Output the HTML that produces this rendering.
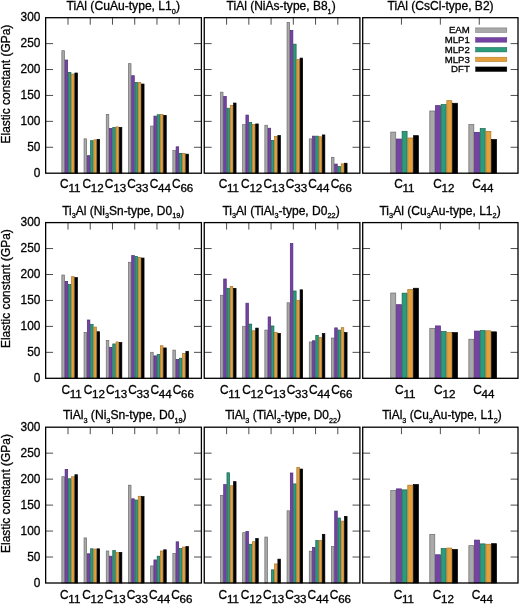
<!DOCTYPE html>
<html lang="en">
<head>
<meta charset="utf-8">
<title>Elastic constants of Ti-Al compounds</title>
<style>
html,body{margin:0;padding:0;background:#fff;}
body{width:520px;height:604px;overflow:hidden;}
svg{display:block;}
</style>
</head>
<body>
<svg width="520" height="604" viewBox="0 0 520 604" font-family='"Liberation Sans", Arial, Helvetica, sans-serif' fill="#000" stroke="#000" stroke-width="0">
<rect x="0" y="0" width="520" height="604" fill="#fff"/>
<g>
<rect x="61.85" y="50.70" width="2.56" height="122.50" fill="#a9a9a9" stroke="#6c6c6c" stroke-width="0.7"/>
<rect x="65.11" y="60.03" width="2.56" height="113.17" fill="#7643a5" stroke="#4c2b76" stroke-width="0.7"/>
<rect x="68.37" y="72.47" width="2.56" height="100.73" fill="#2a9c7b" stroke="#1a624d" stroke-width="0.7"/>
<rect x="71.63" y="74.03" width="2.56" height="99.17" fill="#e4a03c" stroke="#a87428" stroke-width="0.7"/>
<rect x="74.89" y="72.99" width="2.56" height="100.21" fill="#000000" stroke="#000000" stroke-width="0.7"/>
<rect x="84.05" y="138.82" width="2.56" height="34.38" fill="#a9a9a9" stroke="#6c6c6c" stroke-width="0.7"/>
<rect x="87.31" y="155.67" width="2.56" height="17.53" fill="#7643a5" stroke="#4c2b76" stroke-width="0.7"/>
<rect x="90.57" y="140.69" width="2.56" height="32.51" fill="#2a9c7b" stroke="#1a624d" stroke-width="0.7"/>
<rect x="93.83" y="139.86" width="2.56" height="33.34" fill="#e4a03c" stroke="#a87428" stroke-width="0.7"/>
<rect x="97.09" y="139.34" width="2.56" height="33.86" fill="#000000" stroke="#000000" stroke-width="0.7"/>
<rect x="106.25" y="114.46" width="2.56" height="58.74" fill="#a9a9a9" stroke="#6c6c6c" stroke-width="0.7"/>
<rect x="109.51" y="128.45" width="2.56" height="44.74" fill="#7643a5" stroke="#4c2b76" stroke-width="0.7"/>
<rect x="112.77" y="127.42" width="2.56" height="45.78" fill="#2a9c7b" stroke="#1a624d" stroke-width="0.7"/>
<rect x="116.03" y="126.90" width="2.56" height="46.30" fill="#e4a03c" stroke="#a87428" stroke-width="0.7"/>
<rect x="119.29" y="127.42" width="2.56" height="45.78" fill="#000000" stroke="#000000" stroke-width="0.7"/>
<rect x="128.45" y="63.66" width="2.56" height="109.54" fill="#a9a9a9" stroke="#6c6c6c" stroke-width="0.7"/>
<rect x="131.71" y="75.69" width="2.56" height="97.51" fill="#7643a5" stroke="#4c2b76" stroke-width="0.7"/>
<rect x="134.97" y="82.43" width="2.56" height="90.77" fill="#2a9c7b" stroke="#1a624d" stroke-width="0.7"/>
<rect x="138.23" y="82.43" width="2.56" height="90.77" fill="#e4a03c" stroke="#a87428" stroke-width="0.7"/>
<rect x="141.49" y="84.03" width="2.56" height="89.17" fill="#000000" stroke="#000000" stroke-width="0.7"/>
<rect x="150.65" y="126.02" width="2.56" height="47.18" fill="#a9a9a9" stroke="#6c6c6c" stroke-width="0.7"/>
<rect x="153.91" y="116.12" width="2.56" height="57.08" fill="#7643a5" stroke="#4c2b76" stroke-width="0.7"/>
<rect x="157.17" y="114.72" width="2.56" height="58.48" fill="#2a9c7b" stroke="#1a624d" stroke-width="0.7"/>
<rect x="160.43" y="114.51" width="2.56" height="58.69" fill="#e4a03c" stroke="#a87428" stroke-width="0.7"/>
<rect x="163.69" y="115.34" width="2.56" height="57.86" fill="#000000" stroke="#000000" stroke-width="0.7"/>
<rect x="172.85" y="150.38" width="2.56" height="22.82" fill="#a9a9a9" stroke="#6c6c6c" stroke-width="0.7"/>
<rect x="176.11" y="146.80" width="2.56" height="26.40" fill="#7643a5" stroke="#4c2b76" stroke-width="0.7"/>
<rect x="179.37" y="153.33" width="2.56" height="19.87" fill="#2a9c7b" stroke="#1a624d" stroke-width="0.7"/>
<rect x="182.63" y="153.33" width="2.56" height="19.87" fill="#e4a03c" stroke="#a87428" stroke-width="0.7"/>
<rect x="185.89" y="154.16" width="2.56" height="19.04" fill="#000000" stroke="#000000" stroke-width="0.7"/>
<path d="M45.65 147.28h7.4 M201.4 147.28h-7.4 M45.65 121.37h7.4 M201.4 121.37h-7.4 M45.65 95.45h7.4 M201.4 95.45h-7.4 M45.65 69.53h7.4 M201.4 69.53h-7.4 M45.65 43.62h7.4 M201.4 43.62h-7.4 M68.00 17.7v7 M90.24 17.7v7 M112.48 17.7v7 M134.72 17.7v7 M156.96 17.7v7 M179.20 17.7v7" stroke="#000" stroke-width="0.7" fill="none"/>
<rect x="45.65" y="17.7" width="155.75" height="155.5" fill="none" stroke="#000" stroke-width="1.3"/>
</g>
<g>
<rect x="220.45" y="92.17" width="2.56" height="81.03" fill="#a9a9a9" stroke="#6c6c6c" stroke-width="0.7"/>
<rect x="223.71" y="96.42" width="2.56" height="76.78" fill="#7643a5" stroke="#4c2b76" stroke-width="0.7"/>
<rect x="226.97" y="108.24" width="2.56" height="64.96" fill="#2a9c7b" stroke="#1a624d" stroke-width="0.7"/>
<rect x="230.23" y="105.34" width="2.56" height="67.86" fill="#e4a03c" stroke="#a87428" stroke-width="0.7"/>
<rect x="233.49" y="103.06" width="2.56" height="70.14" fill="#000000" stroke="#000000" stroke-width="0.7"/>
<rect x="242.65" y="124.62" width="2.56" height="48.58" fill="#a9a9a9" stroke="#6c6c6c" stroke-width="0.7"/>
<rect x="245.91" y="115.08" width="2.56" height="58.12" fill="#7643a5" stroke="#4c2b76" stroke-width="0.7"/>
<rect x="249.17" y="122.39" width="2.56" height="50.81" fill="#2a9c7b" stroke="#1a624d" stroke-width="0.7"/>
<rect x="252.43" y="124.62" width="2.56" height="48.58" fill="#e4a03c" stroke="#a87428" stroke-width="0.7"/>
<rect x="255.69" y="123.95" width="2.56" height="49.25" fill="#000000" stroke="#000000" stroke-width="0.7"/>
<rect x="264.85" y="125.24" width="2.56" height="47.96" fill="#a9a9a9" stroke="#6c6c6c" stroke-width="0.7"/>
<rect x="268.11" y="128.20" width="2.56" height="45.00" fill="#7643a5" stroke="#4c2b76" stroke-width="0.7"/>
<rect x="271.37" y="140.48" width="2.56" height="32.72" fill="#2a9c7b" stroke="#1a624d" stroke-width="0.7"/>
<rect x="274.63" y="136.49" width="2.56" height="36.71" fill="#e4a03c" stroke="#a87428" stroke-width="0.7"/>
<rect x="277.89" y="135.50" width="2.56" height="37.70" fill="#000000" stroke="#000000" stroke-width="0.7"/>
<rect x="287.05" y="22.40" width="2.56" height="150.80" fill="#a9a9a9" stroke="#6c6c6c" stroke-width="0.7"/>
<rect x="290.31" y="30.33" width="2.56" height="142.87" fill="#7643a5" stroke="#4c2b76" stroke-width="0.7"/>
<rect x="293.57" y="44.17" width="2.56" height="129.03" fill="#2a9c7b" stroke="#1a624d" stroke-width="0.7"/>
<rect x="296.83" y="59.62" width="2.56" height="113.58" fill="#e4a03c" stroke="#a87428" stroke-width="0.7"/>
<rect x="300.09" y="58.07" width="2.56" height="115.13" fill="#000000" stroke="#000000" stroke-width="0.7"/>
<rect x="309.25" y="138.87" width="2.56" height="34.33" fill="#a9a9a9" stroke="#6c6c6c" stroke-width="0.7"/>
<rect x="312.51" y="136.13" width="2.56" height="37.07" fill="#7643a5" stroke="#4c2b76" stroke-width="0.7"/>
<rect x="315.77" y="136.13" width="2.56" height="37.07" fill="#2a9c7b" stroke="#1a624d" stroke-width="0.7"/>
<rect x="319.03" y="136.75" width="2.56" height="36.45" fill="#e4a03c" stroke="#a87428" stroke-width="0.7"/>
<rect x="322.29" y="134.93" width="2.56" height="38.27" fill="#000000" stroke="#000000" stroke-width="0.7"/>
<rect x="331.45" y="157.33" width="2.56" height="15.87" fill="#a9a9a9" stroke="#6c6c6c" stroke-width="0.7"/>
<rect x="334.71" y="164.06" width="2.56" height="9.14" fill="#7643a5" stroke="#4c2b76" stroke-width="0.7"/>
<rect x="337.97" y="166.40" width="2.56" height="6.80" fill="#2a9c7b" stroke="#1a624d" stroke-width="0.7"/>
<rect x="341.23" y="163.86" width="2.56" height="9.34" fill="#e4a03c" stroke="#a87428" stroke-width="0.7"/>
<rect x="344.49" y="163.24" width="2.56" height="9.96" fill="#000000" stroke="#000000" stroke-width="0.7"/>
<path d="M204.25 147.28h7.4 M359.9 147.28h-7.4 M204.25 121.37h7.4 M359.9 121.37h-7.4 M204.25 95.45h7.4 M359.9 95.45h-7.4 M204.25 69.53h7.4 M359.9 69.53h-7.4 M204.25 43.62h7.4 M359.9 43.62h-7.4 M226.60 17.7v7 M248.84 17.7v7 M271.08 17.7v7 M293.32 17.7v7 M315.56 17.7v7 M337.80 17.7v7" stroke="#000" stroke-width="0.7" fill="none"/>
<rect x="204.25" y="17.7" width="155.64999999999998" height="155.5" fill="none" stroke="#000" stroke-width="1.3"/>
</g>
<g>
<rect x="390.75" y="132.08" width="4.98" height="41.12" fill="#a9a9a9" stroke="#6c6c6c" stroke-width="0.7"/>
<rect x="396.43" y="139.03" width="4.98" height="34.17" fill="#7643a5" stroke="#4c2b76" stroke-width="0.7"/>
<rect x="402.11" y="131.31" width="4.98" height="41.89" fill="#2a9c7b" stroke="#1a624d" stroke-width="0.7"/>
<rect x="407.79" y="137.99" width="4.98" height="35.21" fill="#e4a03c" stroke="#a87428" stroke-width="0.7"/>
<rect x="413.47" y="135.66" width="4.98" height="37.54" fill="#000000" stroke="#000000" stroke-width="0.7"/>
<rect x="429.80" y="110.99" width="4.98" height="62.21" fill="#a9a9a9" stroke="#6c6c6c" stroke-width="0.7"/>
<rect x="435.48" y="105.65" width="4.98" height="67.55" fill="#7643a5" stroke="#4c2b76" stroke-width="0.7"/>
<rect x="441.16" y="104.61" width="4.98" height="68.59" fill="#2a9c7b" stroke="#1a624d" stroke-width="0.7"/>
<rect x="446.84" y="100.67" width="4.98" height="72.53" fill="#e4a03c" stroke="#a87428" stroke-width="0.7"/>
<rect x="452.52" y="103.26" width="4.98" height="69.94" fill="#000000" stroke="#000000" stroke-width="0.7"/>
<rect x="468.85" y="124.62" width="4.98" height="48.58" fill="#a9a9a9" stroke="#6c6c6c" stroke-width="0.7"/>
<rect x="474.53" y="132.34" width="4.98" height="40.86" fill="#7643a5" stroke="#4c2b76" stroke-width="0.7"/>
<rect x="480.21" y="128.61" width="4.98" height="44.59" fill="#2a9c7b" stroke="#1a624d" stroke-width="0.7"/>
<rect x="485.89" y="131.36" width="4.98" height="41.84" fill="#e4a03c" stroke="#a87428" stroke-width="0.7"/>
<rect x="491.57" y="139.50" width="4.98" height="33.70" fill="#000000" stroke="#000000" stroke-width="0.7"/>
<path d="M362.7 147.28h7.4 M518.0 147.28h-7.4 M362.7 121.37h7.4 M518.0 121.37h-7.4 M362.7 95.45h7.4 M518.0 95.45h-7.4 M362.7 69.53h7.4 M518.0 69.53h-7.4 M362.7 43.62h7.4 M518.0 43.62h-7.4 M401.45 17.7v7 M440.35 17.7v7 M479.25 17.7v7" stroke="#000" stroke-width="0.7" fill="none"/>
<rect x="362.7" y="17.7" width="155.3" height="155.5" fill="none" stroke="#000" stroke-width="1.3"/>
</g>
<g>
<rect x="61.85" y="275.01" width="2.56" height="103.29" fill="#a9a9a9" stroke="#6c6c6c" stroke-width="0.7"/>
<rect x="65.11" y="281.39" width="2.56" height="96.91" fill="#7643a5" stroke="#4c2b76" stroke-width="0.7"/>
<rect x="68.37" y="284.45" width="2.56" height="93.85" fill="#2a9c7b" stroke="#1a624d" stroke-width="0.7"/>
<rect x="71.63" y="276.72" width="2.56" height="101.58" fill="#e4a03c" stroke="#a87428" stroke-width="0.7"/>
<rect x="74.89" y="277.60" width="2.56" height="100.70" fill="#000000" stroke="#000000" stroke-width="0.7"/>
<rect x="84.05" y="332.36" width="2.56" height="45.94" fill="#a9a9a9" stroke="#6c6c6c" stroke-width="0.7"/>
<rect x="87.31" y="320.00" width="2.56" height="58.30" fill="#7643a5" stroke="#4c2b76" stroke-width="0.7"/>
<rect x="90.57" y="324.52" width="2.56" height="53.78" fill="#2a9c7b" stroke="#1a624d" stroke-width="0.7"/>
<rect x="93.83" y="327.06" width="2.56" height="51.24" fill="#e4a03c" stroke="#a87428" stroke-width="0.7"/>
<rect x="97.09" y="331.73" width="2.56" height="46.57" fill="#000000" stroke="#000000" stroke-width="0.7"/>
<rect x="106.25" y="340.40" width="2.56" height="37.90" fill="#a9a9a9" stroke="#6c6c6c" stroke-width="0.7"/>
<rect x="109.51" y="347.30" width="2.56" height="31.00" fill="#7643a5" stroke="#4c2b76" stroke-width="0.7"/>
<rect x="112.77" y="343.93" width="2.56" height="34.37" fill="#2a9c7b" stroke="#1a624d" stroke-width="0.7"/>
<rect x="116.03" y="341.96" width="2.56" height="36.34" fill="#e4a03c" stroke="#a87428" stroke-width="0.7"/>
<rect x="119.29" y="342.58" width="2.56" height="35.72" fill="#000000" stroke="#000000" stroke-width="0.7"/>
<rect x="128.45" y="262.24" width="2.56" height="116.06" fill="#a9a9a9" stroke="#6c6c6c" stroke-width="0.7"/>
<rect x="131.71" y="255.65" width="2.56" height="122.65" fill="#7643a5" stroke="#4c2b76" stroke-width="0.7"/>
<rect x="134.97" y="256.48" width="2.56" height="121.82" fill="#2a9c7b" stroke="#1a624d" stroke-width="0.7"/>
<rect x="138.23" y="257.46" width="2.56" height="120.84" fill="#e4a03c" stroke="#a87428" stroke-width="0.7"/>
<rect x="141.49" y="258.03" width="2.56" height="120.27" fill="#000000" stroke="#000000" stroke-width="0.7"/>
<rect x="150.65" y="352.28" width="2.56" height="26.02" fill="#a9a9a9" stroke="#6c6c6c" stroke-width="0.7"/>
<rect x="153.91" y="355.87" width="2.56" height="22.43" fill="#7643a5" stroke="#4c2b76" stroke-width="0.7"/>
<rect x="157.17" y="354.46" width="2.56" height="23.84" fill="#2a9c7b" stroke="#1a624d" stroke-width="0.7"/>
<rect x="160.43" y="345.75" width="2.56" height="32.55" fill="#e4a03c" stroke="#a87428" stroke-width="0.7"/>
<rect x="163.69" y="347.93" width="2.56" height="30.37" fill="#000000" stroke="#000000" stroke-width="0.7"/>
<rect x="172.85" y="350.11" width="2.56" height="28.20" fill="#a9a9a9" stroke="#6c6c6c" stroke-width="0.7"/>
<rect x="176.11" y="359.45" width="2.56" height="18.85" fill="#7643a5" stroke="#4c2b76" stroke-width="0.7"/>
<rect x="179.37" y="358.20" width="2.56" height="20.10" fill="#2a9c7b" stroke="#1a624d" stroke-width="0.7"/>
<rect x="182.63" y="353.48" width="2.56" height="24.82" fill="#e4a03c" stroke="#a87428" stroke-width="0.7"/>
<rect x="185.89" y="351.30" width="2.56" height="27.00" fill="#000000" stroke="#000000" stroke-width="0.7"/>
<path d="M45.65 352.35h7.4 M201.4 352.35h-7.4 M45.65 326.40h7.4 M201.4 326.40h-7.4 M45.65 300.45h7.4 M201.4 300.45h-7.4 M45.65 274.50h7.4 M201.4 274.50h-7.4 M45.65 248.55h7.4 M201.4 248.55h-7.4 M68.00 222.6v7 M90.24 222.6v7 M112.48 222.6v7 M134.72 222.6v7 M156.96 222.6v7 M179.20 222.6v7" stroke="#000" stroke-width="0.7" fill="none"/>
<rect x="45.65" y="222.6" width="155.75" height="155.70000000000002" fill="none" stroke="#000" stroke-width="1.3"/>
</g>
<g>
<rect x="220.45" y="295.25" width="2.56" height="83.05" fill="#a9a9a9" stroke="#6c6c6c" stroke-width="0.7"/>
<rect x="223.71" y="279.00" width="2.56" height="99.30" fill="#7643a5" stroke="#4c2b76" stroke-width="0.7"/>
<rect x="226.97" y="288.29" width="2.56" height="90.01" fill="#2a9c7b" stroke="#1a624d" stroke-width="0.7"/>
<rect x="230.23" y="286.53" width="2.56" height="91.77" fill="#e4a03c" stroke="#a87428" stroke-width="0.7"/>
<rect x="233.49" y="288.40" width="2.56" height="89.90" fill="#000000" stroke="#000000" stroke-width="0.7"/>
<rect x="242.65" y="326.28" width="2.56" height="52.02" fill="#a9a9a9" stroke="#6c6c6c" stroke-width="0.7"/>
<rect x="245.91" y="303.19" width="2.56" height="75.11" fill="#7643a5" stroke="#4c2b76" stroke-width="0.7"/>
<rect x="249.17" y="324.10" width="2.56" height="54.20" fill="#2a9c7b" stroke="#1a624d" stroke-width="0.7"/>
<rect x="252.43" y="330.75" width="2.56" height="47.55" fill="#e4a03c" stroke="#a87428" stroke-width="0.7"/>
<rect x="255.69" y="328.10" width="2.56" height="50.20" fill="#000000" stroke="#000000" stroke-width="0.7"/>
<rect x="264.85" y="330.07" width="2.56" height="48.23" fill="#a9a9a9" stroke="#6c6c6c" stroke-width="0.7"/>
<rect x="268.11" y="316.94" width="2.56" height="61.36" fill="#7643a5" stroke="#4c2b76" stroke-width="0.7"/>
<rect x="271.37" y="325.97" width="2.56" height="52.33" fill="#2a9c7b" stroke="#1a624d" stroke-width="0.7"/>
<rect x="274.63" y="332.36" width="2.56" height="45.94" fill="#e4a03c" stroke="#a87428" stroke-width="0.7"/>
<rect x="277.89" y="333.34" width="2.56" height="44.96" fill="#000000" stroke="#000000" stroke-width="0.7"/>
<rect x="287.05" y="302.77" width="2.56" height="75.53" fill="#a9a9a9" stroke="#6c6c6c" stroke-width="0.7"/>
<rect x="290.31" y="243.55" width="2.56" height="134.75" fill="#7643a5" stroke="#4c2b76" stroke-width="0.7"/>
<rect x="293.57" y="290.99" width="2.56" height="87.31" fill="#2a9c7b" stroke="#1a624d" stroke-width="0.7"/>
<rect x="296.83" y="300.28" width="2.56" height="78.02" fill="#e4a03c" stroke="#a87428" stroke-width="0.7"/>
<rect x="300.09" y="289.80" width="2.56" height="88.50" fill="#000000" stroke="#000000" stroke-width="0.7"/>
<rect x="309.25" y="341.96" width="2.56" height="36.34" fill="#a9a9a9" stroke="#6c6c6c" stroke-width="0.7"/>
<rect x="312.51" y="340.76" width="2.56" height="37.54" fill="#7643a5" stroke="#4c2b76" stroke-width="0.7"/>
<rect x="315.77" y="335.42" width="2.56" height="42.88" fill="#2a9c7b" stroke="#1a624d" stroke-width="0.7"/>
<rect x="319.03" y="337.60" width="2.56" height="40.70" fill="#e4a03c" stroke="#a87428" stroke-width="0.7"/>
<rect x="322.29" y="333.65" width="2.56" height="44.65" fill="#000000" stroke="#000000" stroke-width="0.7"/>
<rect x="331.45" y="338.01" width="2.56" height="40.29" fill="#a9a9a9" stroke="#6c6c6c" stroke-width="0.7"/>
<rect x="334.71" y="327.89" width="2.56" height="50.41" fill="#7643a5" stroke="#4c2b76" stroke-width="0.7"/>
<rect x="337.97" y="330.07" width="2.56" height="48.23" fill="#2a9c7b" stroke="#1a624d" stroke-width="0.7"/>
<rect x="341.23" y="327.68" width="2.56" height="50.62" fill="#e4a03c" stroke="#a87428" stroke-width="0.7"/>
<rect x="344.49" y="332.61" width="2.56" height="45.69" fill="#000000" stroke="#000000" stroke-width="0.7"/>
<path d="M204.25 352.35h7.4 M359.9 352.35h-7.4 M204.25 326.40h7.4 M359.9 326.40h-7.4 M204.25 300.45h7.4 M359.9 300.45h-7.4 M204.25 274.50h7.4 M359.9 274.50h-7.4 M204.25 248.55h7.4 M359.9 248.55h-7.4 M226.60 222.6v7 M248.84 222.6v7 M271.08 222.6v7 M293.32 222.6v7 M315.56 222.6v7 M337.80 222.6v7" stroke="#000" stroke-width="0.7" fill="none"/>
<rect x="204.25" y="222.6" width="155.64999999999998" height="155.70000000000002" fill="none" stroke="#000" stroke-width="1.3"/>
</g>
<g>
<rect x="390.75" y="293.02" width="4.98" height="85.28" fill="#a9a9a9" stroke="#6c6c6c" stroke-width="0.7"/>
<rect x="396.43" y="304.69" width="4.98" height="73.61" fill="#7643a5" stroke="#4c2b76" stroke-width="0.7"/>
<rect x="402.11" y="293.17" width="4.98" height="85.13" fill="#2a9c7b" stroke="#1a624d" stroke-width="0.7"/>
<rect x="407.79" y="289.59" width="4.98" height="88.71" fill="#e4a03c" stroke="#a87428" stroke-width="0.7"/>
<rect x="413.47" y="288.24" width="4.98" height="90.06" fill="#000000" stroke="#000000" stroke-width="0.7"/>
<rect x="429.80" y="328.31" width="4.98" height="49.99" fill="#a9a9a9" stroke="#6c6c6c" stroke-width="0.7"/>
<rect x="435.48" y="325.92" width="4.98" height="52.38" fill="#7643a5" stroke="#4c2b76" stroke-width="0.7"/>
<rect x="441.16" y="331.63" width="4.98" height="46.67" fill="#2a9c7b" stroke="#1a624d" stroke-width="0.7"/>
<rect x="446.84" y="332.61" width="4.98" height="45.69" fill="#e4a03c" stroke="#a87428" stroke-width="0.7"/>
<rect x="452.52" y="332.61" width="4.98" height="45.69" fill="#000000" stroke="#000000" stroke-width="0.7"/>
<rect x="468.85" y="339.21" width="4.98" height="39.09" fill="#a9a9a9" stroke="#6c6c6c" stroke-width="0.7"/>
<rect x="474.53" y="331.06" width="4.98" height="47.24" fill="#7643a5" stroke="#4c2b76" stroke-width="0.7"/>
<rect x="480.21" y="330.64" width="4.98" height="47.66" fill="#2a9c7b" stroke="#1a624d" stroke-width="0.7"/>
<rect x="485.89" y="330.85" width="4.98" height="47.45" fill="#e4a03c" stroke="#a87428" stroke-width="0.7"/>
<rect x="491.57" y="331.84" width="4.98" height="46.46" fill="#000000" stroke="#000000" stroke-width="0.7"/>
<path d="M362.7 352.35h7.4 M518.0 352.35h-7.4 M362.7 326.40h7.4 M518.0 326.40h-7.4 M362.7 300.45h7.4 M518.0 300.45h-7.4 M362.7 274.50h7.4 M518.0 274.50h-7.4 M362.7 248.55h7.4 M518.0 248.55h-7.4 M401.45 222.6v7 M440.35 222.6v7 M479.25 222.6v7" stroke="#000" stroke-width="0.7" fill="none"/>
<rect x="362.7" y="222.6" width="155.3" height="155.70000000000002" fill="none" stroke="#000" stroke-width="1.3"/>
</g>
<g>
<rect x="61.85" y="476.68" width="2.56" height="106.32" fill="#a9a9a9" stroke="#6c6c6c" stroke-width="0.7"/>
<rect x="65.11" y="469.41" width="2.56" height="113.59" fill="#7643a5" stroke="#4c2b76" stroke-width="0.7"/>
<rect x="68.37" y="478.76" width="2.56" height="104.24" fill="#2a9c7b" stroke="#1a624d" stroke-width="0.7"/>
<rect x="71.63" y="476.78" width="2.56" height="106.22" fill="#e4a03c" stroke="#a87428" stroke-width="0.7"/>
<rect x="74.89" y="474.71" width="2.56" height="108.29" fill="#000000" stroke="#000000" stroke-width="0.7"/>
<rect x="84.05" y="537.91" width="2.56" height="45.09" fill="#a9a9a9" stroke="#6c6c6c" stroke-width="0.7"/>
<rect x="87.31" y="553.80" width="2.56" height="29.20" fill="#7643a5" stroke="#4c2b76" stroke-width="0.7"/>
<rect x="90.57" y="548.81" width="2.56" height="34.19" fill="#2a9c7b" stroke="#1a624d" stroke-width="0.7"/>
<rect x="93.83" y="549.02" width="2.56" height="33.98" fill="#e4a03c" stroke="#a87428" stroke-width="0.7"/>
<rect x="97.09" y="548.81" width="2.56" height="34.19" fill="#000000" stroke="#000000" stroke-width="0.7"/>
<rect x="106.25" y="551.00" width="2.56" height="32.00" fill="#a9a9a9" stroke="#6c6c6c" stroke-width="0.7"/>
<rect x="109.51" y="556.19" width="2.56" height="26.81" fill="#7643a5" stroke="#4c2b76" stroke-width="0.7"/>
<rect x="112.77" y="550.63" width="2.56" height="32.37" fill="#2a9c7b" stroke="#1a624d" stroke-width="0.7"/>
<rect x="116.03" y="552.61" width="2.56" height="30.39" fill="#e4a03c" stroke="#a87428" stroke-width="0.7"/>
<rect x="119.29" y="552.40" width="2.56" height="30.60" fill="#000000" stroke="#000000" stroke-width="0.7"/>
<rect x="128.45" y="485.20" width="2.56" height="97.80" fill="#a9a9a9" stroke="#6c6c6c" stroke-width="0.7"/>
<rect x="131.71" y="498.80" width="2.56" height="84.20" fill="#7643a5" stroke="#4c2b76" stroke-width="0.7"/>
<rect x="134.97" y="500.00" width="2.56" height="83.00" fill="#2a9c7b" stroke="#1a624d" stroke-width="0.7"/>
<rect x="138.23" y="496.26" width="2.56" height="86.74" fill="#e4a03c" stroke="#a87428" stroke-width="0.7"/>
<rect x="141.49" y="496.62" width="2.56" height="86.38" fill="#000000" stroke="#000000" stroke-width="0.7"/>
<rect x="150.65" y="565.90" width="2.56" height="17.10" fill="#a9a9a9" stroke="#6c6c6c" stroke-width="0.7"/>
<rect x="153.91" y="559.93" width="2.56" height="23.07" fill="#7643a5" stroke="#4c2b76" stroke-width="0.7"/>
<rect x="157.17" y="556.19" width="2.56" height="26.81" fill="#2a9c7b" stroke="#1a624d" stroke-width="0.7"/>
<rect x="160.43" y="551.00" width="2.56" height="32.00" fill="#e4a03c" stroke="#a87428" stroke-width="0.7"/>
<rect x="163.69" y="549.80" width="2.56" height="33.20" fill="#000000" stroke="#000000" stroke-width="0.7"/>
<rect x="172.85" y="553.38" width="2.56" height="29.62" fill="#a9a9a9" stroke="#6c6c6c" stroke-width="0.7"/>
<rect x="176.11" y="541.86" width="2.56" height="41.14" fill="#7643a5" stroke="#4c2b76" stroke-width="0.7"/>
<rect x="179.37" y="548.61" width="2.56" height="34.39" fill="#2a9c7b" stroke="#1a624d" stroke-width="0.7"/>
<rect x="182.63" y="547.05" width="2.56" height="35.95" fill="#e4a03c" stroke="#a87428" stroke-width="0.7"/>
<rect x="185.89" y="546.63" width="2.56" height="36.37" fill="#000000" stroke="#000000" stroke-width="0.7"/>
<path d="M45.65 557.03h7.4 M201.4 557.03h-7.4 M45.65 531.07h7.4 M201.4 531.07h-7.4 M45.65 505.10h7.4 M201.4 505.10h-7.4 M45.65 479.13h7.4 M201.4 479.13h-7.4 M45.65 453.17h7.4 M201.4 453.17h-7.4 M68.00 427.2v7 M90.24 427.2v7 M112.48 427.2v7 M134.72 427.2v7 M156.96 427.2v7 M179.20 427.2v7" stroke="#000" stroke-width="0.7" fill="none"/>
<rect x="45.65" y="427.2" width="155.75" height="155.8" fill="none" stroke="#000" stroke-width="1.3"/>
</g>
<g>
<rect x="220.45" y="495.32" width="2.56" height="87.68" fill="#a9a9a9" stroke="#6c6c6c" stroke-width="0.7"/>
<rect x="223.71" y="484.62" width="2.56" height="98.38" fill="#7643a5" stroke="#4c2b76" stroke-width="0.7"/>
<rect x="226.97" y="472.78" width="2.56" height="110.22" fill="#2a9c7b" stroke="#1a624d" stroke-width="0.7"/>
<rect x="230.23" y="485.72" width="2.56" height="97.28" fill="#e4a03c" stroke="#a87428" stroke-width="0.7"/>
<rect x="233.49" y="481.66" width="2.56" height="101.34" fill="#000000" stroke="#000000" stroke-width="0.7"/>
<rect x="242.65" y="532.66" width="2.56" height="50.34" fill="#a9a9a9" stroke="#6c6c6c" stroke-width="0.7"/>
<rect x="245.91" y="531.42" width="2.56" height="51.58" fill="#7643a5" stroke="#4c2b76" stroke-width="0.7"/>
<rect x="249.17" y="544.24" width="2.56" height="38.76" fill="#2a9c7b" stroke="#1a624d" stroke-width="0.7"/>
<rect x="252.43" y="541.70" width="2.56" height="41.30" fill="#e4a03c" stroke="#a87428" stroke-width="0.7"/>
<rect x="255.69" y="538.48" width="2.56" height="44.52" fill="#000000" stroke="#000000" stroke-width="0.7"/>
<rect x="264.85" y="537.03" width="2.56" height="45.97" fill="#a9a9a9" stroke="#6c6c6c" stroke-width="0.7"/>
<rect x="271.37" y="569.85" width="2.56" height="13.15" fill="#2a9c7b" stroke="#1a624d" stroke-width="0.7"/>
<rect x="274.63" y="563.93" width="2.56" height="19.07" fill="#e4a03c" stroke="#a87428" stroke-width="0.7"/>
<rect x="277.89" y="559.15" width="2.56" height="23.85" fill="#000000" stroke="#000000" stroke-width="0.7"/>
<rect x="287.05" y="510.80" width="2.56" height="72.20" fill="#a9a9a9" stroke="#6c6c6c" stroke-width="0.7"/>
<rect x="290.31" y="472.99" width="2.56" height="110.01" fill="#7643a5" stroke="#4c2b76" stroke-width="0.7"/>
<rect x="293.57" y="483.90" width="2.56" height="99.10" fill="#2a9c7b" stroke="#1a624d" stroke-width="0.7"/>
<rect x="296.83" y="467.43" width="2.56" height="115.57" fill="#e4a03c" stroke="#a87428" stroke-width="0.7"/>
<rect x="300.09" y="469.04" width="2.56" height="113.96" fill="#000000" stroke="#000000" stroke-width="0.7"/>
<rect x="309.25" y="551.20" width="2.56" height="31.80" fill="#a9a9a9" stroke="#6c6c6c" stroke-width="0.7"/>
<rect x="312.51" y="547.41" width="2.56" height="35.59" fill="#7643a5" stroke="#4c2b76" stroke-width="0.7"/>
<rect x="315.77" y="540.50" width="2.56" height="42.50" fill="#2a9c7b" stroke="#1a624d" stroke-width="0.7"/>
<rect x="319.03" y="540.50" width="2.56" height="42.50" fill="#e4a03c" stroke="#a87428" stroke-width="0.7"/>
<rect x="322.29" y="534.32" width="2.56" height="48.68" fill="#000000" stroke="#000000" stroke-width="0.7"/>
<rect x="331.45" y="546.53" width="2.56" height="36.47" fill="#a9a9a9" stroke="#6c6c6c" stroke-width="0.7"/>
<rect x="334.71" y="511.06" width="2.56" height="71.94" fill="#7643a5" stroke="#4c2b76" stroke-width="0.7"/>
<rect x="337.97" y="518.02" width="2.56" height="64.98" fill="#2a9c7b" stroke="#1a624d" stroke-width="0.7"/>
<rect x="341.23" y="521.13" width="2.56" height="61.87" fill="#e4a03c" stroke="#a87428" stroke-width="0.7"/>
<rect x="344.49" y="516.41" width="2.56" height="66.59" fill="#000000" stroke="#000000" stroke-width="0.7"/>
<path d="M204.25 557.03h7.4 M359.9 557.03h-7.4 M204.25 531.07h7.4 M359.9 531.07h-7.4 M204.25 505.10h7.4 M359.9 505.10h-7.4 M204.25 479.13h7.4 M359.9 479.13h-7.4 M204.25 453.17h7.4 M359.9 453.17h-7.4 M226.60 427.2v7 M248.84 427.2v7 M271.08 427.2v7 M293.32 427.2v7 M315.56 427.2v7 M337.80 427.2v7" stroke="#000" stroke-width="0.7" fill="none"/>
<rect x="204.25" y="427.2" width="155.64999999999998" height="155.8" fill="none" stroke="#000" stroke-width="1.3"/>
</g>
<g>
<rect x="390.75" y="490.49" width="4.98" height="92.51" fill="#a9a9a9" stroke="#6c6c6c" stroke-width="0.7"/>
<rect x="396.43" y="488.88" width="4.98" height="94.12" fill="#7643a5" stroke="#4c2b76" stroke-width="0.7"/>
<rect x="402.11" y="489.87" width="4.98" height="93.13" fill="#2a9c7b" stroke="#1a624d" stroke-width="0.7"/>
<rect x="407.79" y="485.14" width="4.98" height="97.86" fill="#e4a03c" stroke="#a87428" stroke-width="0.7"/>
<rect x="413.47" y="484.52" width="4.98" height="98.48" fill="#000000" stroke="#000000" stroke-width="0.7"/>
<rect x="429.80" y="534.32" width="4.98" height="48.68" fill="#a9a9a9" stroke="#6c6c6c" stroke-width="0.7"/>
<rect x="435.48" y="554.79" width="4.98" height="28.21" fill="#7643a5" stroke="#4c2b76" stroke-width="0.7"/>
<rect x="441.16" y="548.61" width="4.98" height="34.39" fill="#2a9c7b" stroke="#1a624d" stroke-width="0.7"/>
<rect x="446.84" y="548.04" width="4.98" height="34.96" fill="#e4a03c" stroke="#a87428" stroke-width="0.7"/>
<rect x="452.52" y="549.44" width="4.98" height="33.56" fill="#000000" stroke="#000000" stroke-width="0.7"/>
<rect x="468.85" y="545.65" width="4.98" height="37.35" fill="#a9a9a9" stroke="#6c6c6c" stroke-width="0.7"/>
<rect x="474.53" y="540.09" width="4.98" height="42.91" fill="#7643a5" stroke="#4c2b76" stroke-width="0.7"/>
<rect x="480.21" y="543.88" width="4.98" height="39.12" fill="#2a9c7b" stroke="#1a624d" stroke-width="0.7"/>
<rect x="485.89" y="544.24" width="4.98" height="38.76" fill="#e4a03c" stroke="#a87428" stroke-width="0.7"/>
<rect x="491.57" y="543.67" width="4.98" height="39.33" fill="#000000" stroke="#000000" stroke-width="0.7"/>
<path d="M362.7 557.03h7.4 M518.0 557.03h-7.4 M362.7 531.07h7.4 M518.0 531.07h-7.4 M362.7 505.10h7.4 M518.0 505.10h-7.4 M362.7 479.13h7.4 M518.0 479.13h-7.4 M362.7 453.17h7.4 M518.0 453.17h-7.4 M401.45 427.2v7 M440.35 427.2v7 M479.25 427.2v7" stroke="#000" stroke-width="0.7" fill="none"/>
<rect x="362.7" y="427.2" width="155.3" height="155.8" fill="none" stroke="#000" stroke-width="1.3"/>
</g>
<text id="yt0_0" transform="translate(40.40 176.80) scale(0.9750 1)" font-size="12.2" text-anchor="end" stroke-width="0.3">0</text>
<text id="yt0_50" transform="translate(40.40 150.88) scale(0.9750 1)" font-size="12.2" text-anchor="end" stroke-width="0.3">50</text>
<text id="yt0_100" transform="translate(40.40 124.97) scale(0.9750 1)" font-size="12.2" text-anchor="end" stroke-width="0.3">100</text>
<text id="yt0_150" transform="translate(40.40 99.05) scale(0.9750 1)" font-size="12.2" text-anchor="end" stroke-width="0.3">150</text>
<text id="yt0_200" transform="translate(40.40 73.13) scale(0.9750 1)" font-size="12.2" text-anchor="end" stroke-width="0.3">200</text>
<text id="yt0_250" transform="translate(40.40 47.22) scale(0.9750 1)" font-size="12.2" text-anchor="end" stroke-width="0.3">250</text>
<text id="yt0_300" transform="translate(40.40 21.30) scale(0.9750 1)" font-size="12.2" text-anchor="end" stroke-width="0.3">300</text>
<text id="yl0" transform="translate(9.80 143.45) rotate(-90) scale(1.0000 1)" font-size="11.95" text-anchor="start" stroke-width="0.3">Elastic constant (GPa)</text>
<text id="yt1_0" transform="translate(40.40 381.90) scale(0.9750 1)" font-size="12.2" text-anchor="end" stroke-width="0.3">0</text>
<text id="yt1_50" transform="translate(40.40 355.95) scale(0.9750 1)" font-size="12.2" text-anchor="end" stroke-width="0.3">50</text>
<text id="yt1_100" transform="translate(40.40 330.00) scale(0.9750 1)" font-size="12.2" text-anchor="end" stroke-width="0.3">100</text>
<text id="yt1_150" transform="translate(40.40 304.05) scale(0.9750 1)" font-size="12.2" text-anchor="end" stroke-width="0.3">150</text>
<text id="yt1_200" transform="translate(40.40 278.10) scale(0.9750 1)" font-size="12.2" text-anchor="end" stroke-width="0.3">200</text>
<text id="yt1_250" transform="translate(40.40 252.15) scale(0.9750 1)" font-size="12.2" text-anchor="end" stroke-width="0.3">250</text>
<text id="yt1_300" transform="translate(40.40 226.20) scale(0.9750 1)" font-size="12.2" text-anchor="end" stroke-width="0.3">300</text>
<text id="yl1" transform="translate(9.80 348.00) rotate(-90) scale(1.0000 1)" font-size="11.95" text-anchor="start" stroke-width="0.3">Elastic constant (GPa)</text>
<text id="yt2_0" transform="translate(40.40 586.60) scale(0.9750 1)" font-size="12.2" text-anchor="end" stroke-width="0.3">0</text>
<text id="yt2_50" transform="translate(40.40 560.63) scale(0.9750 1)" font-size="12.2" text-anchor="end" stroke-width="0.3">50</text>
<text id="yt2_100" transform="translate(40.40 534.67) scale(0.9750 1)" font-size="12.2" text-anchor="end" stroke-width="0.3">100</text>
<text id="yt2_150" transform="translate(40.40 508.70) scale(0.9750 1)" font-size="12.2" text-anchor="end" stroke-width="0.3">150</text>
<text id="yt2_200" transform="translate(40.40 482.73) scale(0.9750 1)" font-size="12.2" text-anchor="end" stroke-width="0.3">200</text>
<text id="yt2_250" transform="translate(40.40 456.77) scale(0.9750 1)" font-size="12.2" text-anchor="end" stroke-width="0.3">250</text>
<text id="yt2_300" transform="translate(40.40 430.80) scale(0.9750 1)" font-size="12.2" text-anchor="end" stroke-width="0.3">300</text>
<text id="yl2" transform="translate(9.80 552.90) rotate(-90) scale(1.0000 1)" font-size="11.95" text-anchor="start" stroke-width="0.3">Elastic constant (GPa)</text>
<text id="tt00" transform="translate(66.59 10.40) scale(1.0109 1)" font-size="12.0" text-anchor="start" stroke-width="0.3">TiAl (CuAu-type, L1<tspan font-size="7.3" dy="3.60">0</tspan><tspan dy="-3.60">)</tspan></text>
<text id="tt01" transform="translate(226.59 10.40) scale(1.0022 1)" font-size="12.0" text-anchor="start" stroke-width="0.3">TiAl (NiAs-type, B8<tspan font-size="7.3" dy="3.60">1</tspan><tspan dy="-3.60">)</tspan></text>
<text id="tt02" transform="translate(387.59 10.40) scale(1.0064 1)" font-size="12.0" text-anchor="start" stroke-width="0.3">TiAl (CsCl-type, B2)</text>
<text id="tt10" transform="translate(62.14 214.60) scale(0.9980 1)" font-size="12.0" text-anchor="start" stroke-width="0.3">Ti<tspan font-size="7.3" dy="3.60">3</tspan><tspan dy="-3.60">Al (Ni</tspan><tspan font-size="7.3" dy="3.60">3</tspan><tspan dy="-3.60">Sn-type, D0</tspan><tspan font-size="7.3" dy="3.60">19</tspan><tspan dy="-3.60">)</tspan></text>
<text id="tt11" transform="translate(222.38 214.60) scale(1.0063 1)" font-size="12.0" text-anchor="start" stroke-width="0.3">Ti<tspan font-size="7.3" dy="3.60">3</tspan><tspan dy="-3.60">Al (TiAl</tspan><tspan font-size="7.3" dy="3.60">3</tspan><tspan dy="-3.60">-type, D0</tspan><tspan font-size="7.3" dy="3.60">22</tspan><tspan dy="-3.60">)</tspan></text>
<text id="tt12" transform="translate(379.43 214.60) scale(1.0078 1)" font-size="12.0" text-anchor="start" stroke-width="0.3">Ti<tspan font-size="7.3" dy="3.60">3</tspan><tspan dy="-3.60">Al (Cu</tspan><tspan font-size="7.3" dy="3.60">3</tspan><tspan dy="-3.60">Au-type, L1</tspan><tspan font-size="7.3" dy="3.60">2</tspan><tspan dy="-3.60">)</tspan></text>
<text id="tt20" transform="translate(62.99 418.90) scale(1.0103 1)" font-size="12.0" text-anchor="start" stroke-width="0.3">TiAl<tspan font-size="7.3" dy="3.60">3</tspan><tspan dy="-3.60"> (Ni</tspan><tspan font-size="7.3" dy="3.60">3</tspan><tspan dy="-3.60">Sn-type, D0</tspan><tspan font-size="7.3" dy="3.60">19</tspan><tspan dy="-3.60">)</tspan></text>
<text id="tt21" transform="translate(225.29 418.90) scale(0.9927 1)" font-size="12.0" text-anchor="start" stroke-width="0.3">TiAl<tspan font-size="7.3" dy="3.60">3</tspan><tspan dy="-3.60"> (TiAl</tspan><tspan font-size="7.3" dy="3.60">3</tspan><tspan dy="-3.60">-type, D0</tspan><tspan font-size="7.3" dy="3.60">22</tspan><tspan dy="-3.60">)</tspan></text>
<text id="tt22" transform="translate(382.29 418.90) scale(0.9912 1)" font-size="12.0" text-anchor="start" stroke-width="0.3">TiAl<tspan font-size="7.3" dy="3.60">3</tspan><tspan dy="-3.60"> (Cu</tspan><tspan font-size="7.3" dy="3.60">3</tspan><tspan dy="-3.60">Au-type, L1</tspan><tspan font-size="7.3" dy="3.60">2</tspan><tspan dy="-3.60">)</tspan></text>
<text id="cl000" transform="translate(60.05 187.70) scale(1.0000 1)" font-size="11.9" text-anchor="start" stroke-width="0.3">C</text>
<text id="cs000" transform="translate(68.40 191.90) scale(1.1600 1)" font-size="10.0" text-anchor="start" stroke-width="0.3">11</text>
<text id="cl001" transform="translate(82.45 187.70) scale(1.0000 1)" font-size="11.9" text-anchor="start" stroke-width="0.3">C</text>
<text id="cs001" transform="translate(90.80 191.90) scale(1.1600 1)" font-size="10.0" text-anchor="start" stroke-width="0.3">12</text>
<text id="cl002" transform="translate(104.85 187.70) scale(1.0000 1)" font-size="11.9" text-anchor="start" stroke-width="0.3">C</text>
<text id="cs002" transform="translate(113.20 191.90) scale(1.1600 1)" font-size="10.0" text-anchor="start" stroke-width="0.3">13</text>
<text id="cl003" transform="translate(127.25 187.70) scale(1.0000 1)" font-size="11.9" text-anchor="start" stroke-width="0.3">C</text>
<text id="cs003" transform="translate(135.60 191.90) scale(1.1600 1)" font-size="10.0" text-anchor="start" stroke-width="0.3">33</text>
<text id="cl004" transform="translate(149.65 187.70) scale(1.0000 1)" font-size="11.9" text-anchor="start" stroke-width="0.3">C</text>
<text id="cs004" transform="translate(158.00 191.90) scale(1.1600 1)" font-size="10.0" text-anchor="start" stroke-width="0.3">44</text>
<text id="cl005" transform="translate(172.05 187.70) scale(1.0000 1)" font-size="11.9" text-anchor="start" stroke-width="0.3">C</text>
<text id="cs005" transform="translate(180.40 191.90) scale(1.1600 1)" font-size="10.0" text-anchor="start" stroke-width="0.3">66</text>
<text id="cl010" transform="translate(218.65 187.70) scale(1.0000 1)" font-size="11.9" text-anchor="start" stroke-width="0.3">C</text>
<text id="cs010" transform="translate(227.00 191.90) scale(1.1600 1)" font-size="10.0" text-anchor="start" stroke-width="0.3">11</text>
<text id="cl011" transform="translate(241.05 187.70) scale(1.0000 1)" font-size="11.9" text-anchor="start" stroke-width="0.3">C</text>
<text id="cs011" transform="translate(249.40 191.90) scale(1.1600 1)" font-size="10.0" text-anchor="start" stroke-width="0.3">12</text>
<text id="cl012" transform="translate(263.45 187.70) scale(1.0000 1)" font-size="11.9" text-anchor="start" stroke-width="0.3">C</text>
<text id="cs012" transform="translate(271.80 191.90) scale(1.1600 1)" font-size="10.0" text-anchor="start" stroke-width="0.3">13</text>
<text id="cl013" transform="translate(285.85 187.70) scale(1.0000 1)" font-size="11.9" text-anchor="start" stroke-width="0.3">C</text>
<text id="cs013" transform="translate(294.20 191.90) scale(1.1600 1)" font-size="10.0" text-anchor="start" stroke-width="0.3">33</text>
<text id="cl014" transform="translate(308.25 187.70) scale(1.0000 1)" font-size="11.9" text-anchor="start" stroke-width="0.3">C</text>
<text id="cs014" transform="translate(316.60 191.90) scale(1.1600 1)" font-size="10.0" text-anchor="start" stroke-width="0.3">44</text>
<text id="cl015" transform="translate(330.65 187.70) scale(1.0000 1)" font-size="11.9" text-anchor="start" stroke-width="0.3">C</text>
<text id="cs015" transform="translate(339.00 191.90) scale(1.1600 1)" font-size="10.0" text-anchor="start" stroke-width="0.3">66</text>
<text id="cl020" transform="translate(394.15 187.70) scale(1.0000 1)" font-size="11.9" text-anchor="start" stroke-width="0.3">C</text>
<text id="cs020" transform="translate(402.50 191.90) scale(1.1600 1)" font-size="10.0" text-anchor="start" stroke-width="0.3">11</text>
<text id="cl021" transform="translate(433.20 187.70) scale(1.0000 1)" font-size="11.9" text-anchor="start" stroke-width="0.3">C</text>
<text id="cs021" transform="translate(441.55 191.90) scale(1.1600 1)" font-size="10.0" text-anchor="start" stroke-width="0.3">12</text>
<text id="cl022" transform="translate(472.25 187.70) scale(1.0000 1)" font-size="11.9" text-anchor="start" stroke-width="0.3">C</text>
<text id="cs022" transform="translate(480.60 191.90) scale(1.1600 1)" font-size="10.0" text-anchor="start" stroke-width="0.3">44</text>
<text id="cl100" transform="translate(61.40 393.90) scale(1.0000 1)" font-size="11.9" text-anchor="start" stroke-width="0.3">C</text>
<text id="cs100" transform="translate(69.75 398.10) scale(1.1600 1)" font-size="10.0" text-anchor="start" stroke-width="0.3">11</text>
<text id="cl101" transform="translate(83.65 393.90) scale(1.0000 1)" font-size="11.9" text-anchor="start" stroke-width="0.3">C</text>
<text id="cs101" transform="translate(92.00 398.10) scale(1.1600 1)" font-size="10.0" text-anchor="start" stroke-width="0.3">12</text>
<text id="cl102" transform="translate(105.90 393.90) scale(1.0000 1)" font-size="11.9" text-anchor="start" stroke-width="0.3">C</text>
<text id="cs102" transform="translate(114.25 398.10) scale(1.1600 1)" font-size="10.0" text-anchor="start" stroke-width="0.3">13</text>
<text id="cl103" transform="translate(128.15 393.90) scale(1.0000 1)" font-size="11.9" text-anchor="start" stroke-width="0.3">C</text>
<text id="cs103" transform="translate(136.50 398.10) scale(1.1600 1)" font-size="10.0" text-anchor="start" stroke-width="0.3">33</text>
<text id="cl104" transform="translate(150.40 393.90) scale(1.0000 1)" font-size="11.9" text-anchor="start" stroke-width="0.3">C</text>
<text id="cs104" transform="translate(158.75 398.10) scale(1.1600 1)" font-size="10.0" text-anchor="start" stroke-width="0.3">44</text>
<text id="cl105" transform="translate(172.65 393.90) scale(1.0000 1)" font-size="11.9" text-anchor="start" stroke-width="0.3">C</text>
<text id="cs105" transform="translate(181.00 398.10) scale(1.1600 1)" font-size="10.0" text-anchor="start" stroke-width="0.3">66</text>
<text id="cl110" transform="translate(220.00 393.90) scale(1.0000 1)" font-size="11.9" text-anchor="start" stroke-width="0.3">C</text>
<text id="cs110" transform="translate(228.35 398.10) scale(1.1600 1)" font-size="10.0" text-anchor="start" stroke-width="0.3">11</text>
<text id="cl111" transform="translate(242.25 393.90) scale(1.0000 1)" font-size="11.9" text-anchor="start" stroke-width="0.3">C</text>
<text id="cs111" transform="translate(250.60 398.10) scale(1.1600 1)" font-size="10.0" text-anchor="start" stroke-width="0.3">12</text>
<text id="cl112" transform="translate(264.50 393.90) scale(1.0000 1)" font-size="11.9" text-anchor="start" stroke-width="0.3">C</text>
<text id="cs112" transform="translate(272.85 398.10) scale(1.1600 1)" font-size="10.0" text-anchor="start" stroke-width="0.3">13</text>
<text id="cl113" transform="translate(286.75 393.90) scale(1.0000 1)" font-size="11.9" text-anchor="start" stroke-width="0.3">C</text>
<text id="cs113" transform="translate(295.10 398.10) scale(1.1600 1)" font-size="10.0" text-anchor="start" stroke-width="0.3">33</text>
<text id="cl114" transform="translate(309.00 393.90) scale(1.0000 1)" font-size="11.9" text-anchor="start" stroke-width="0.3">C</text>
<text id="cs114" transform="translate(317.35 398.10) scale(1.1600 1)" font-size="10.0" text-anchor="start" stroke-width="0.3">44</text>
<text id="cl115" transform="translate(331.25 393.90) scale(1.0000 1)" font-size="11.9" text-anchor="start" stroke-width="0.3">C</text>
<text id="cs115" transform="translate(339.60 398.10) scale(1.1600 1)" font-size="10.0" text-anchor="start" stroke-width="0.3">66</text>
<text id="cl120" transform="translate(395.05 393.90) scale(1.0000 1)" font-size="11.9" text-anchor="start" stroke-width="0.3">C</text>
<text id="cs120" transform="translate(403.40 398.10) scale(1.1600 1)" font-size="10.0" text-anchor="start" stroke-width="0.3">11</text>
<text id="cl121" transform="translate(434.10 393.90) scale(1.0000 1)" font-size="11.9" text-anchor="start" stroke-width="0.3">C</text>
<text id="cs121" transform="translate(442.45 398.10) scale(1.1600 1)" font-size="10.0" text-anchor="start" stroke-width="0.3">12</text>
<text id="cl122" transform="translate(473.15 393.90) scale(1.0000 1)" font-size="11.9" text-anchor="start" stroke-width="0.3">C</text>
<text id="cs122" transform="translate(481.50 398.10) scale(1.1600 1)" font-size="10.0" text-anchor="start" stroke-width="0.3">44</text>
<text id="cl200" transform="translate(59.95 598.60) scale(1.0000 1)" font-size="11.9" text-anchor="start" stroke-width="0.3">C</text>
<text id="cs200" transform="translate(68.30 602.80) scale(1.1600 1)" font-size="10.0" text-anchor="start" stroke-width="0.3">11</text>
<text id="cl201" transform="translate(82.20 598.60) scale(1.0000 1)" font-size="11.9" text-anchor="start" stroke-width="0.3">C</text>
<text id="cs201" transform="translate(90.55 602.80) scale(1.1600 1)" font-size="10.0" text-anchor="start" stroke-width="0.3">12</text>
<text id="cl202" transform="translate(104.45 598.60) scale(1.0000 1)" font-size="11.9" text-anchor="start" stroke-width="0.3">C</text>
<text id="cs202" transform="translate(112.80 602.80) scale(1.1600 1)" font-size="10.0" text-anchor="start" stroke-width="0.3">13</text>
<text id="cl203" transform="translate(126.70 598.60) scale(1.0000 1)" font-size="11.9" text-anchor="start" stroke-width="0.3">C</text>
<text id="cs203" transform="translate(135.05 602.80) scale(1.1600 1)" font-size="10.0" text-anchor="start" stroke-width="0.3">33</text>
<text id="cl204" transform="translate(148.95 598.60) scale(1.0000 1)" font-size="11.9" text-anchor="start" stroke-width="0.3">C</text>
<text id="cs204" transform="translate(157.30 602.80) scale(1.1600 1)" font-size="10.0" text-anchor="start" stroke-width="0.3">44</text>
<text id="cl205" transform="translate(171.20 598.60) scale(1.0000 1)" font-size="11.9" text-anchor="start" stroke-width="0.3">C</text>
<text id="cs205" transform="translate(179.55 602.80) scale(1.1600 1)" font-size="10.0" text-anchor="start" stroke-width="0.3">66</text>
<text id="cl210" transform="translate(218.55 598.60) scale(1.0000 1)" font-size="11.9" text-anchor="start" stroke-width="0.3">C</text>
<text id="cs210" transform="translate(226.90 602.80) scale(1.1600 1)" font-size="10.0" text-anchor="start" stroke-width="0.3">11</text>
<text id="cl211" transform="translate(240.80 598.60) scale(1.0000 1)" font-size="11.9" text-anchor="start" stroke-width="0.3">C</text>
<text id="cs211" transform="translate(249.15 602.80) scale(1.1600 1)" font-size="10.0" text-anchor="start" stroke-width="0.3">12</text>
<text id="cl212" transform="translate(263.05 598.60) scale(1.0000 1)" font-size="11.9" text-anchor="start" stroke-width="0.3">C</text>
<text id="cs212" transform="translate(271.40 602.80) scale(1.1600 1)" font-size="10.0" text-anchor="start" stroke-width="0.3">13</text>
<text id="cl213" transform="translate(285.30 598.60) scale(1.0000 1)" font-size="11.9" text-anchor="start" stroke-width="0.3">C</text>
<text id="cs213" transform="translate(293.65 602.80) scale(1.1600 1)" font-size="10.0" text-anchor="start" stroke-width="0.3">33</text>
<text id="cl214" transform="translate(307.55 598.60) scale(1.0000 1)" font-size="11.9" text-anchor="start" stroke-width="0.3">C</text>
<text id="cs214" transform="translate(315.90 602.80) scale(1.1600 1)" font-size="10.0" text-anchor="start" stroke-width="0.3">44</text>
<text id="cl215" transform="translate(329.80 598.60) scale(1.0000 1)" font-size="11.9" text-anchor="start" stroke-width="0.3">C</text>
<text id="cs215" transform="translate(338.15 602.80) scale(1.1600 1)" font-size="10.0" text-anchor="start" stroke-width="0.3">66</text>
<text id="cl220" transform="translate(393.65 598.60) scale(1.0000 1)" font-size="11.9" text-anchor="start" stroke-width="0.3">C</text>
<text id="cs220" transform="translate(402.00 602.80) scale(1.1600 1)" font-size="10.0" text-anchor="start" stroke-width="0.3">11</text>
<text id="cl221" transform="translate(432.70 598.60) scale(1.0000 1)" font-size="11.9" text-anchor="start" stroke-width="0.3">C</text>
<text id="cs221" transform="translate(441.05 602.80) scale(1.1600 1)" font-size="10.0" text-anchor="start" stroke-width="0.3">12</text>
<text id="cl222" transform="translate(471.75 598.60) scale(1.0000 1)" font-size="11.9" text-anchor="start" stroke-width="0.3">C</text>
<text id="cs222" transform="translate(480.10 602.80) scale(1.1600 1)" font-size="10.0" text-anchor="start" stroke-width="0.3">44</text>
<text id="lg0" transform="translate(469.80 33.45) scale(0.9830 1)" font-size="9.8" text-anchor="end" stroke-width="0.3">EAM</text>
<rect x="475.7" y="27.90" width="31.1" height="4.5" fill="#a9a9a9" stroke="#6c6c6c" stroke-width="0.5"/>
<text id="lg1" transform="translate(469.80 43.21) scale(0.9830 1)" font-size="9.8" text-anchor="end" stroke-width="0.3">MLP1</text>
<rect x="475.7" y="37.66" width="31.1" height="4.5" fill="#7643a5" stroke="#4c2b76" stroke-width="0.5"/>
<text id="lg2" transform="translate(469.80 52.97) scale(0.9830 1)" font-size="9.8" text-anchor="end" stroke-width="0.3">MLP2</text>
<rect x="475.7" y="47.42" width="31.1" height="4.5" fill="#2a9c7b" stroke="#1a624d" stroke-width="0.5"/>
<text id="lg3" transform="translate(469.80 62.73) scale(0.9830 1)" font-size="9.8" text-anchor="end" stroke-width="0.3">MLP3</text>
<rect x="475.7" y="57.18" width="31.1" height="4.5" fill="#e4a03c" stroke="#a87428" stroke-width="0.5"/>
<text id="lg4" transform="translate(469.80 72.49) scale(0.9830 1)" font-size="9.8" text-anchor="end" stroke-width="0.3">DFT</text>
<rect x="475.7" y="66.94" width="31.1" height="4.5" fill="#000000" stroke="#000000" stroke-width="0.5"/>
</svg>
</body>
</html>
